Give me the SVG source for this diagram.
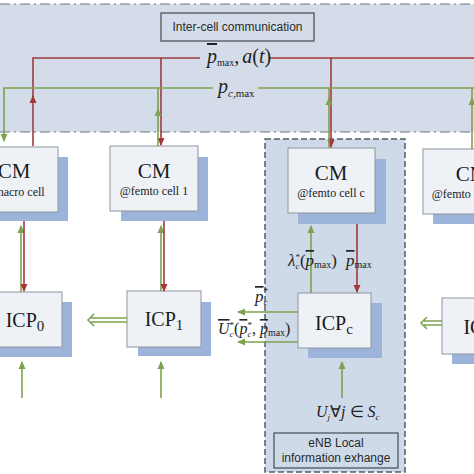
<svg xmlns="http://www.w3.org/2000/svg" width="474" height="474" viewBox="0 0 474 474">
<style>
.band{fill:#d3dce8}
.dd{fill:none;stroke:#6b7784;stroke-width:1.2;stroke-dasharray:10 4 2 4}
.enb{fill:#cfdae9;stroke:#555d66;stroke-width:1.5;stroke-dasharray:6 3}
.lbl{fill:#d3dce8;stroke:#444b53;stroke-width:1.2}
.box{fill:#eef2f7;stroke:#8e949b;stroke-width:1}
.sh{fill:#9cb4da}
.g{fill:none;stroke:#7ea24e;stroke-width:1.6}
.r{fill:none;stroke:#a3383b;stroke-width:1.6}
.gm{marker-end:url(#ag)}
.rm{marker-end:url(#ar)}
.sans{font-family:"Liberation Sans",Arial,sans-serif;font-size:12px;fill:#2a2a2a;text-anchor:middle}
.ser{font-family:"Liberation Serif","Times New Roman",serif;fill:#1a1a1a;text-anchor:middle}
.cm{font-size:21px}
.sub{font-size:12px}
.icp{font-size:20px}
.m{font-family:"Liberation Serif","Times New Roman",serif;fill:#222}
.it{font-style:italic}
.ov{text-decoration:overline}
</style>
<defs>
<marker id="ag" markerUnits="userSpaceOnUse" markerWidth="8" markerHeight="8" refX="7" refY="4" orient="auto"><path d="M0,0.5 L8,4 L0,7.5 z" fill="#7ea24e"/></marker>
<marker id="ar" markerUnits="userSpaceOnUse" markerWidth="8" markerHeight="8" refX="7" refY="4" orient="auto"><path d="M0,0.5 L8,4 L0,7.5 z" fill="#a3383b"/></marker>
</defs>
<rect width="474" height="474" fill="#ffffff"/>
<g id="inter-cell-band">
<rect class="band" x="0" y="4" width="474" height="128"/>
<line class="dd" x1="0" y1="4" x2="474" y2="4"/>
<line class="dd" x1="0" y1="132" x2="474" y2="132"/>
</g>
<g id="inter-cell-title">
<rect class="lbl" x="161" y="13" width="153" height="28"/>
<text class="sans" x="237.5" y="31">Inter-cell communication</text>
</g>
<g id="enb-local-area">
<rect class="enb" x="265" y="139" width="140" height="333"/>
</g>
<g id="enb-local-label">
<rect class="lbl" x="274" y="433" width="124" height="35" style="fill:#cfdae9"/>
<text class="sans" x="336" y="447">eNB Local</text>
<text class="sans" x="336" y="462">information exhange</text>
</g>
<g id="cm-macro">
<rect class="sh" x="-20" y="157" width="88" height="64"/>
<rect class="box" x="-30" y="147" width="88" height="65"/>
<text class="ser cm" x="14" y="178">CM</text>
<text class="ser sub" x="14" y="196">@macro cell</text>
</g>
<g id="cm-femto1">
<rect class="sh" x="121" y="157" width="87" height="64"/>
<rect class="box" x="110" y="146" width="88" height="65"/>
<text class="ser cm" x="154" y="178">CM</text>
<text class="ser sub" x="154" y="195">@femto cell 1</text>
</g>
<g id="cm-femtoc">
<rect class="sh" x="298" y="159" width="88" height="65"/>
<rect class="box" x="288" y="148" width="87" height="65"/>
<text class="ser cm" x="331" y="180">CM</text>
<text class="ser sub" x="331" y="197">@femto cell c</text>
</g>
<g id="cm-right">
<rect class="sh" x="433" y="159" width="88" height="65"/>
<rect class="box" x="423" y="149" width="88" height="65"/>
<text class="ser cm" x="472" y="181">CM</text>
<text class="ser sub" x="467" y="198">@femto cell C</text>
</g>
<g id="icp0">
<rect class="sh" x="-2" y="302" width="74" height="55"/>
<rect class="box" x="-12" y="292" width="74" height="55"/>
<text class="ser icp" x="25" y="327">ICP<tspan style="font-size:15px" dy="4">0</tspan></text>
</g>
<g id="icp1">
<rect class="sh" x="138" y="302" width="73" height="54"/>
<rect class="box" x="127" y="291" width="74" height="56"/>
<text class="ser icp" x="164" y="326">ICP<tspan style="font-size:15px" dy="4">1</tspan></text>
</g>
<g id="icpc">
<rect class="sh" x="308" y="303" width="74" height="55"/>
<rect class="box" x="298" y="293" width="73" height="55"/>
<text class="ser icp" x="334" y="330">ICP<tspan style="font-size:15px" dy="4">c</tspan></text>
</g>
<g id="icp-right">
<rect class="sh" x="452" y="308" width="74" height="56"/>
<rect class="box" x="442" y="298" width="74" height="56"/>
<text class="ser icp" x="479" y="334">ICP</text>
</g>
<g id="connectors">
<path class="r" d="M33,97 V58 H200"/>
<path class="r rm" d="M33,146 V96"/>
<path class="r" d="M270,58 H474"/>
<path class="r rm" d="M161,58 V145"/>
<path class="r rm" d="M331,58 V147"/>
<path class="g gm" d="M213,88 H4 V141"/>
<path class="g" d="M258,88 H474"/>
<path class="g" d="M158,110 V88"/>
<path class="g gm" d="M158,146 V109"/>
<path class="g" d="M329,99 V88"/>
<path class="g gm" d="M329,148 V98"/>
<path class="g" d="M472,99 V88"/>
<path class="g gm" d="M472,149 V98"/>
<path class="g gm" d="M21,292 V226"/>
<path class="r rm" d="M24,221 V291"/>
<path class="g gm" d="M161,291 V226"/>
<path class="r rm" d="M164,221 V291"/>
<path class="g gm" d="M311,293 V226"/>
<path class="r rm" d="M357,224 V292"/>
<path class="g gm" d="M22,398 V362"/>
<path class="g gm" d="M161,398 V362"/>
<path class="g gm" d="M342,398 V362"/>
<path class="g gm" d="M298,312 H238"/>
<path class="g gm" d="M298,342 H238"/>
<path class="g" d="M127,318 H91 M127,322 H91 M94,314 L88,320 L94,326"/>
<path class="g" d="M442,321 H424 M442,325 H424 M427,317 L421,323 L427,329"/>
</g>
<g id="labels">
<text class="m" x="207" y="63" font-size="20"><tspan class="it ov">p</tspan><tspan font-size="10" dy="3">max</tspan><tspan dy="-3">,</tspan><tspan class="it" dx="3">a</tspan>(<tspan class="it">t</tspan>)</text>
<text class="m" x="218" y="93" font-size="20"><tspan class="it">p</tspan><tspan font-size="11" dy="4"><tspan class="it">c</tspan>,max</tspan></text>
<text class="m" x="288" y="266" font-size="17"><tspan class="it">λ</tspan><tspan class="it" font-size="9" dy="3">c</tspan><tspan font-size="9" dx="-4" dy="-9">*</tspan><tspan dy="6">(</tspan><tspan class="it ov">p</tspan><tspan font-size="10" dy="2">max</tspan><tspan dy="-2">)</tspan></text>
<text class="m" x="346" y="266" font-size="17"><tspan class="it ov">p</tspan><tspan font-size="10" dy="2">max</tspan></text>
<text class="m" x="255" y="302" font-size="17"><tspan class="it ov">p</tspan><tspan class="it" font-size="9" dy="3">c</tspan><tspan font-size="9" dx="-4" dy="-11">*</tspan></text>
<text class="m" x="218" y="334" font-size="16"><tspan class="it ov">U</tspan><tspan class="it" font-size="9" dy="3">c</tspan><tspan font-size="9" dx="-4" dy="-9">*</tspan><tspan dy="6">(</tspan><tspan class="it ov">p</tspan><tspan class="it" font-size="9" dy="3">c</tspan><tspan font-size="9" dx="-4" dy="-9">*</tspan><tspan dy="6">, </tspan><tspan class="it ov">p</tspan><tspan font-size="10" dy="2">max</tspan><tspan dy="-2">)</tspan></text>
<text class="m" x="316" y="417" font-size="16"><tspan class="it">U</tspan><tspan class="it" font-size="9" dy="3">j</tspan><tspan dy="-3">∀</tspan><tspan class="it">j</tspan> ∈ <tspan class="it">S</tspan><tspan class="it" font-size="9" dy="3">c</tspan></text>
</g>
</svg>
